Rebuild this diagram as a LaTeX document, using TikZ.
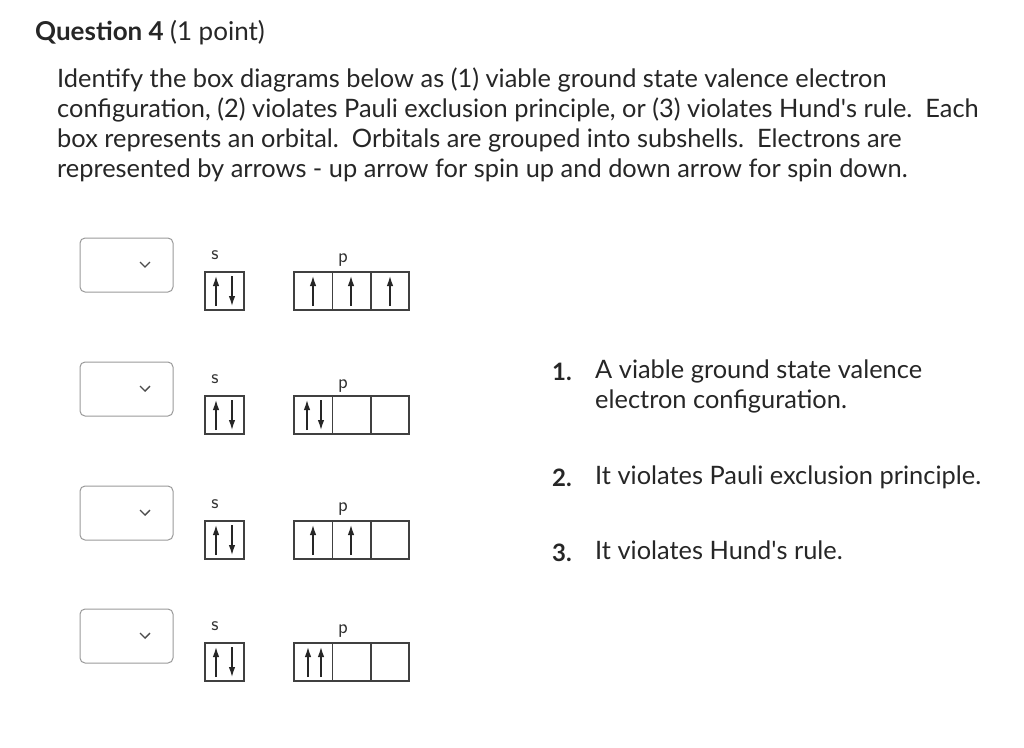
\documentclass[tikz,border=0pt]{standalone}
\usepackage{fontspec}
\setmainfont{Lato}
\usetikzlibrary{arrows.meta}
\begin{document}
\begin{tikzpicture}[x=1pt,y=-1pt,
  txt/.style={anchor=base west,inner sep=0,font=\fontsize{25.4}{30}\selectfont,text=black!85},
  bnum/.style={txt,font=\bfseries\fontsize{24}{28}\selectfont},
  dd/.style={draw=black!40,rounded corners=5pt,line width=1pt},
  orb/.style={draw=black!75,line width=1.1pt},
  lbl/.style={font=\sffamily\fontsize{20}{20}\selectfont,inner sep=0,text=black!80},
  ea/.style={-{Latex[length=10pt,width=6.5pt]},line width=1.3pt,black!85}]
\useasboundingbox (0,0) rectangle (1024,747);
\node[txt,font=\bfseries\fontsize{26}{30}\selectfont] (title) at (35,40) {Question 4 \mdseries(1 point)};
\node[txt] (l1) at (57,87) {Identify the box diagrams below as (1) viable ground state valence electron};
\node[txt] (l2) at (57,117) {configuration, (2) violates Pauli exclusion principle, or (3) violates Hund\textquotesingle s rule.\ \ Each};
\node[txt] (l3) at (57,147) {box represents an orbital.\ \ Orbitals are grouped into subshells.\ \ Electrons are};
\node[txt] (l4) at (57,177) {represented by arrows - up arrow for spin up and down arrow for spin down.};
\foreach \r/\dy/\sy/\py in {1/0/0/260,2/124/124/386,3/248/249/509,4/371/371/631}{
  \draw[dd] (80,238+\dy) rectangle (173,292+\dy);
  \draw[black!70,line width=1.4pt] (140,262+\dy) -- (145,267+\dy) -- (150,262+\dy);
  \node[lbl] (s\r) at (215,255+\sy) {s};
  \node[lbl] (p\r) at (343,\py) {p};
  \draw[orb] (205,272+\sy) rectangle (244,310+\sy);
  \draw[orb] (294,272+\sy) rectangle (409,310+\sy);
  \draw[orb] (332.5,272+\sy) -- (332.5,310+\sy) (371,272+\sy) -- (371,310+\sy);
  \draw[ea] (216,306+\sy) -- (216,276+\sy);
  \draw[ea] (232,276+\sy) -- (232,306+\sy);
}
% row 1 p
\foreach \x in {313,351,390}{\draw[ea] (\x,306) -- (\x,276);}
% row 2 p
\draw[ea] (307,430) -- (307,400); \draw[ea] (321,400) -- (321,430);
% row 3 p
\foreach \x in {313,351}{\draw[ea] (\x,555) -- (\x,525);}
% row 4 p
\draw[ea] (308,677) -- (308,647); \draw[ea] (321,677) -- (321,647);
% options
\node[bnum] (n1) at (552,380) {1.};
\node[txt] (o1a) at (595,378) {A viable ground state valence};
\node[txt] (o1b) at (595,408) {electron configuration.};
\node[bnum] (n2) at (552,486) {2.};
\node[txt] (o2) at (595,484) {It violates Pauli exclusion principle.};
\node[bnum] (n3) at (552,561) {3.};
\node[txt] (o3) at (595,559) {It violates Hund\textquotesingle s rule.};
\end{tikzpicture}
\end{document}
